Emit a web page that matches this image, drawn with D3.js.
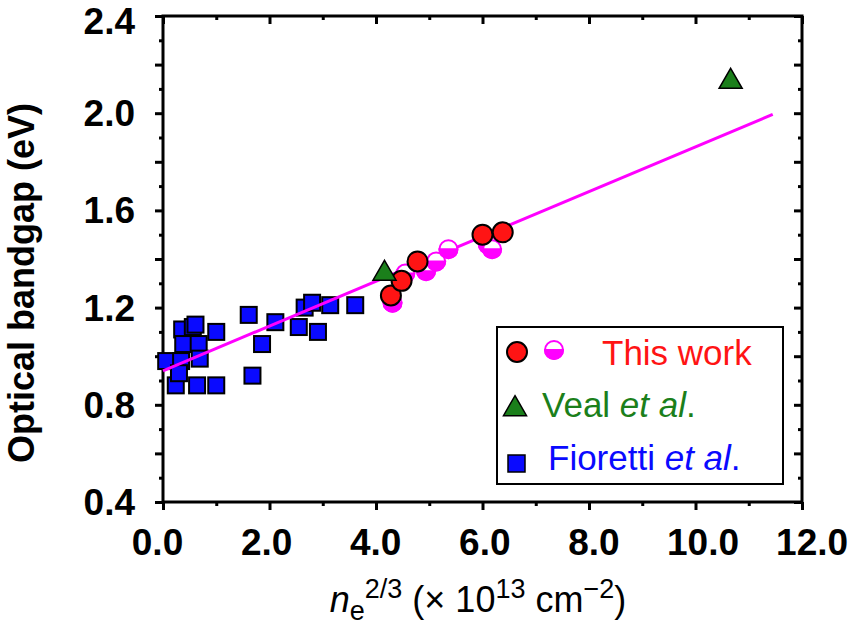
<!DOCTYPE html>
<html>
<head>
<meta charset="utf-8">
<script src="https://cdn.jsdelivr.net/npm/d3@7"></script>
<style>
  body { margin: 0; background: #fff; }
  svg text { font-family: "Liberation Sans", Arial, sans-serif; }
</style>
</head>
<body>
<div id="chart"></div>
<script>
// Data
var fiorettiX = [0.06, 0.34, 0.24, 0.30, 0.36, 0.38, 0.56, 0.61, 0.67, 0.69, 0.64, 1.00, 1.00,
                 1.61, 1.68, 1.86, 2.11, 2.55, 2.66, 2.80, 2.91, 3.14, 3.61];
var fiorettiY = [0.98, 0.98, 0.88, 0.93, 1.11, 1.05, 1.12, 1.13, 1.05, 0.99, 0.88, 1.10, 0.88,
                 1.17, 0.92, 1.05, 1.14, 1.12, 1.20, 1.22, 1.10, 1.21, 1.21];

var vealX = [4.16, 10.66];
var vealY = [1.34, 2.13];

var workX = [4.28, 4.48, 4.78, 6.00, 6.38];
var workY = [1.25, 1.31, 1.39, 1.50, 1.51];

var halfX = [4.31, 4.55, 4.94, 5.13, 5.36, 6.10, 6.18];
var halfY = [1.22, 1.34, 1.35, 1.39, 1.44, 1.46, 1.44];

var fitX = [0, 11.45];
var fitY = [0.94, 1.995];

var xTicks = [0, 2, 4, 6, 8, 10, 12];
var yTicks = [0.4, 0.8, 1.2, 1.6, 2.0, 2.4];

var legendLabels = ["This work", "Veal", "Fioretti"];

// Sizes
var svgWidth = 850;
var svgHeight = 633;
var margin = { top: 16, right: 48, bottom: 131, left: 163 };
var chartWidth = svgWidth - margin.left - margin.right;
var chartHeight = svgHeight - margin.top - margin.bottom;

var red = "#ff1414", green = "#1b7f1b", blue = "#0a0aff", magenta = "#ff00ff";

var svg = d3.select("#chart")
  .append("svg")
  .attr("width", svgWidth)
  .attr("height", svgHeight);

var chartGroup = svg.append("g")
  .attr("transform", `translate(${margin.left}, ${margin.top})`);

var x = d3.scaleLinear().domain([0, 12]).range([0, chartWidth]);
var y = d3.scaleLinear().domain([0.4, 2.4]).range([chartHeight, 0]);

var fmt = d3.format(".1f");
var xMajor = d3.range(0, 12.01, 2), xMinor = d3.range(1, 12, 2);
var yMajor = d3.range(0, 11).map(i => 0.4 + i * 0.2), yMinor = d3.range(0, 10).map(i => 0.5 + i * 0.2);

function isLabel(v, list) { return list.some(t => Math.abs(t - v) < 1e-6); }

function styleAxis(g) {
  g.select(".domain").remove();
  g.selectAll("line").attr("stroke", "#000").attr("stroke-width", 3);
}

// left (outside) and right (inside) ticks
chartGroup.append("g")
  .call(d3.axisLeft(y).tickValues(yMajor).tickSize(8).tickPadding(20)
    .tickFormat(d => isLabel(d, yTicks) ? fmt(d) : ""))
  .call(styleAxis)
  .selectAll("text")
  .attr("font-size", 37).attr("font-weight", "bold").attr("fill", "#000")
  .attr("dy", d => Math.abs(d - 2.4) < 1e-6 ? "0.48em" : "0.34em");
chartGroup.append("g")
  .call(d3.axisLeft(y).tickValues(yMinor).tickSize(4).tickFormat(""))
  .call(styleAxis);
chartGroup.append("g")
  .attr("transform", `translate(${chartWidth},0)`)
  .call(d3.axisLeft(y).tickValues(yMajor).tickSize(8).tickFormat(""))
  .call(styleAxis);
chartGroup.append("g")
  .attr("transform", `translate(${chartWidth},0)`)
  .call(d3.axisLeft(y).tickValues(yMinor).tickSize(4).tickFormat(""))
  .call(styleAxis);

// bottom (outside) and top (inside) ticks
chartGroup.append("g")
  .attr("transform", `translate(0,${chartHeight})`)
  .call(d3.axisBottom(x).tickValues(xMajor).tickSize(8).tickPadding(19)
    .tickFormat(d => isLabel(d, xTicks) ? fmt(d) : ""))
  .call(styleAxis)
  .selectAll("text")
  .attr("font-size", 37).attr("font-weight", "bold").attr("fill", "#000")
  .attr("dx", d => -6 + 1.3 * d);
chartGroup.append("g")
  .attr("transform", `translate(0,${chartHeight})`)
  .call(d3.axisBottom(x).tickValues(xMinor).tickSize(4).tickFormat(""))
  .call(styleAxis);
chartGroup.append("g")
  .call(d3.axisBottom(x).tickValues(xMajor).tickSize(8).tickFormat(""))
  .call(styleAxis);
chartGroup.append("g")
  .call(d3.axisBottom(x).tickValues(xMinor).tickSize(4).tickFormat(""))
  .call(styleAxis);

// frame
chartGroup.append("rect")
  .attr("width", chartWidth).attr("height", chartHeight)
  .attr("fill", "none").attr("stroke", "#000").attr("stroke-width", 3);

// Fioretti squares
var sq = 16;
chartGroup.append("g").selectAll("rect")
  .data(fiorettiX.map((v, i) => [v, fiorettiY[i]]))
  .enter().append("rect")
  .attr("x", d => x(d[0]) - sq / 2)
  .attr("y", d => y(d[1]) - sq / 2)
  .attr("width", sq).attr("height", sq)
  .attr("fill", blue).attr("stroke", "#000").attr("stroke-width", 2);

// fit line
chartGroup.append("path")
  .datum(fitX.map((v, i) => [v, fitY[i]]))
  .attr("d", d3.line().x(d => x(d[0])).y(d => y(d[1])))
  .attr("fill", "none").attr("stroke", magenta).attr("stroke-width", 3);

// half-filled magenta circles
var r = 10;
function halfCircle(g) {
  g.append("circle").attr("r", r - 1).attr("fill", "#fff")
    .attr("stroke", magenta).attr("stroke-width", 2);
  g.append("path")
    .attr("d", `M${-r + 1},0 A${r - 1},${r - 1} 0 0,0 ${r - 1},0 Z`)
    .attr("fill", magenta).attr("stroke", magenta).attr("stroke-width", 2);
}
chartGroup.append("g").selectAll("g")
  .data(halfX.map((v, i) => [v, halfY[i]]))
  .enter().append("g")
  .attr("transform", d => `translate(${x(d[0])},${y(d[1])})`)
  .each(function () { halfCircle(d3.select(this)); });

// red circles
chartGroup.append("g").selectAll("circle")
  .data(workX.map((v, i) => [v, workY[i]]))
  .enter().append("circle")
  .attr("cx", d => x(d[0])).attr("cy", d => y(d[1]))
  .attr("r", r)
  .attr("fill", red).attr("stroke", "#000").attr("stroke-width", 2);

// Veal triangles
var tri = d3.symbol().type(d3.symbolTriangle).size(230);
chartGroup.append("g").selectAll("path")
  .data(vealX.map((v, i) => [v, vealY[i]]))
  .enter().append("path")
  .attr("d", tri)
  .attr("transform", d => `translate(${x(d[0])},${y(d[1])})`)
  .attr("fill", green).attr("stroke", "#000").attr("stroke-width", 1.5);

// legend
var legend = svg.append("g");
legend.append("rect")
  .attr("x", 497).attr("y", 327).attr("width", 286).attr("height", 157)
  .attr("fill", "#fff").attr("stroke", "#000").attr("stroke-width", 2);

legend.append("circle")
  .attr("cx", 517).attr("cy", 352).attr("r", r)
  .attr("fill", red).attr("stroke", "#000").attr("stroke-width", 2);
halfCircle(legend.append("g").attr("transform", "translate(554,350)"));
legend.append("text")
  .attr("x", 602).attr("y", 365)
  .attr("font-size", 35).attr("fill", red)
  .text(legendLabels[0]);

legend.append("path")
  .attr("d", tri)
  .attr("transform", "translate(515,409)")
  .attr("fill", green).attr("stroke", "#000").attr("stroke-width", 1.5);
var vealText = legend.append("text")
  .attr("x", 542).attr("y", 417)
  .attr("font-size", 35).attr("fill", green);
vealText.append("tspan").text(legendLabels[1] + " ");
vealText.append("tspan").attr("font-style", "italic").text("et al");
vealText.append("tspan").text(".");

legend.append("rect")
  .attr("x", 508).attr("y", 455).attr("width", 17).attr("height", 17)
  .attr("fill", blue).attr("stroke", "#000").attr("stroke-width", 1.5);
var fioText = legend.append("text")
  .attr("x", 548).attr("y", 470)
  .attr("font-size", 35).attr("fill", blue);
fioText.append("tspan").text(legendLabels[2] + " ");
fioText.append("tspan").attr("font-style", "italic").text("et al");
fioText.append("tspan").text(".");

// axis titles
svg.append("text")
  .attr("transform", "translate(33.5,283) rotate(-90)")
  .attr("text-anchor", "middle")
  .attr("font-size", 36).attr("font-weight", "bold")
  .text("Optical bandgap (eV)");

var xt = svg.append("text")
  .attr("x", 478).attr("y", 612)
  .attr("text-anchor", "middle")
  .attr("font-size", 36);
xt.append("tspan").attr("font-style", "italic").text("n");
xt.append("tspan").attr("font-size", 27).attr("dy", 8).text("e");
xt.append("tspan").attr("font-size", 27).attr("dy", -22).text("2/3");
xt.append("tspan").attr("dy", 14).text(" (\u00d7 10");
xt.append("tspan").attr("font-size", 27).attr("dy", -14).text("13");
xt.append("tspan").attr("dy", 14).text(" cm");
xt.append("tspan").attr("font-size", 27).attr("dy", -14).text("\u22122");
xt.append("tspan").attr("dy", 14).text(")");
</script>
</body>
</html>
